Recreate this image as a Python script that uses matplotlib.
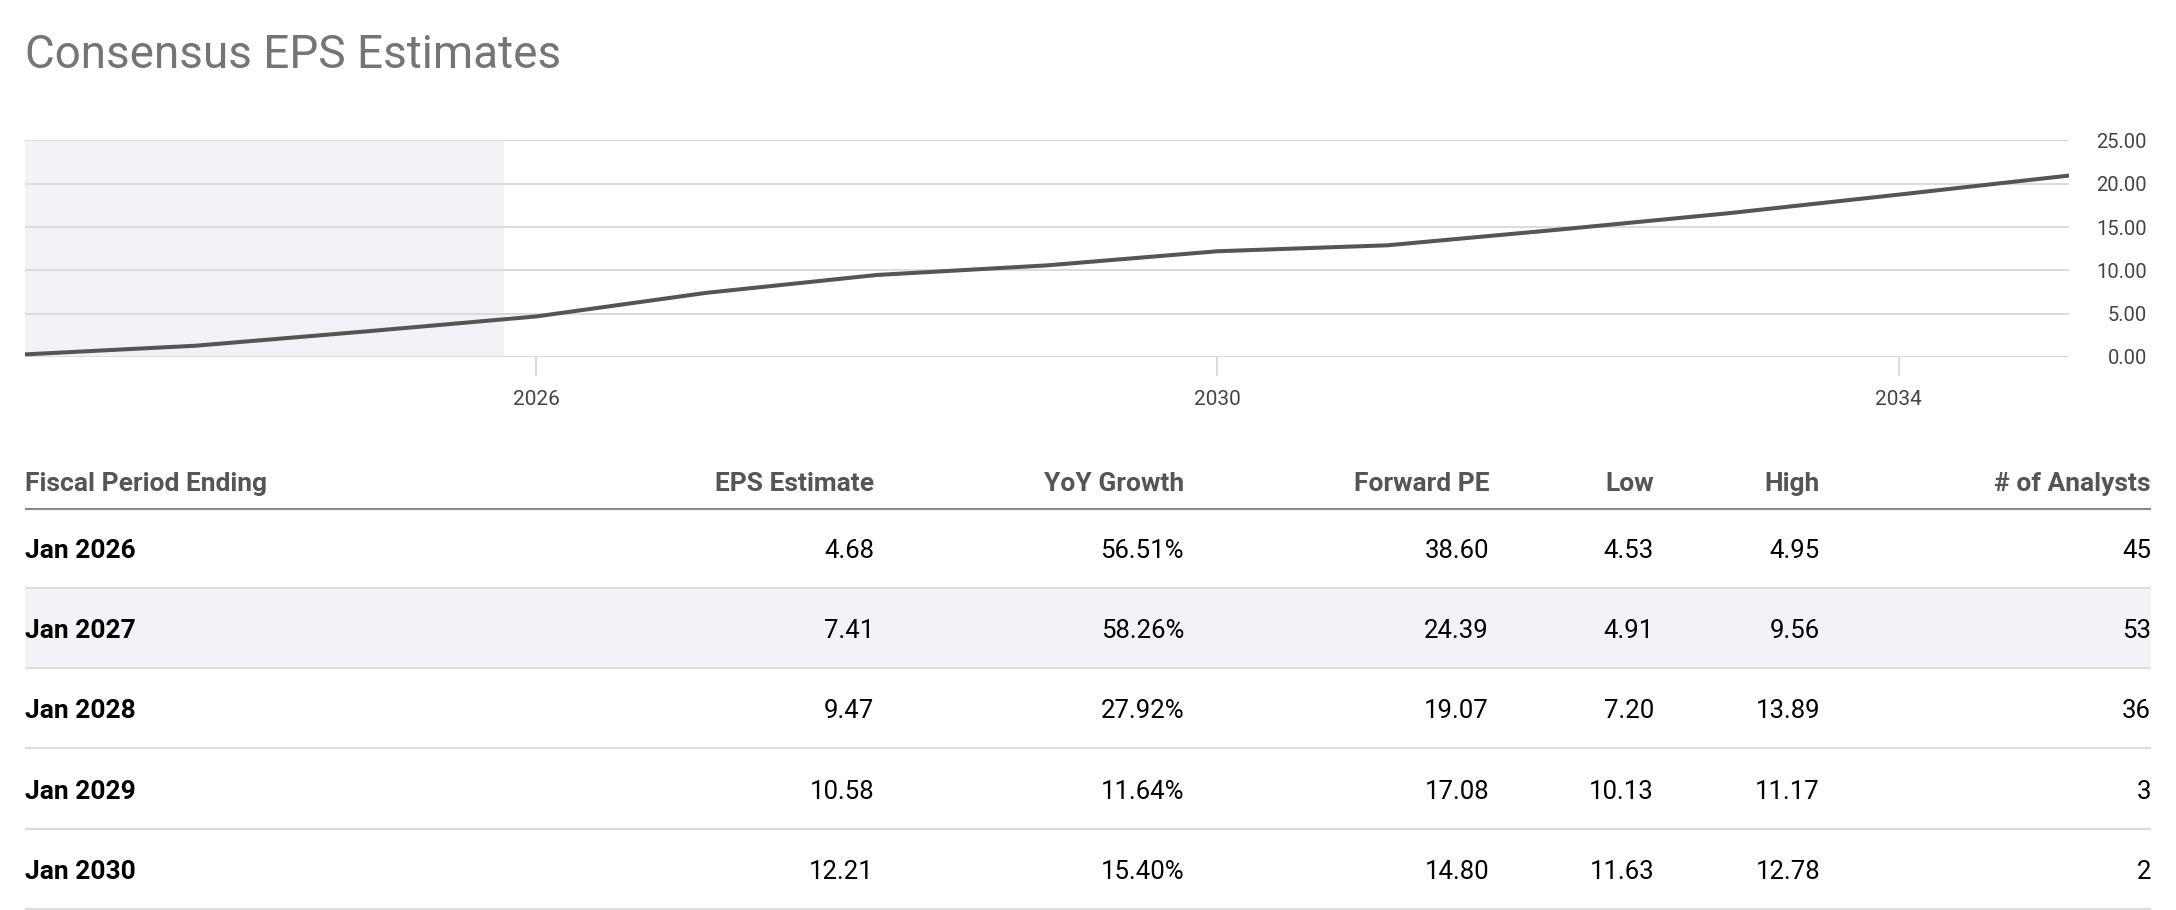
import numpy as np
import matplotlib.pyplot as plt

plt.rcParams['font.family'] = ['Roboto', 'DejaVu Sans']

# chart data
years = [2023, 2024, 2025, 2026, 2027, 2028, 2029, 2030, 2031, 2032, 2033, 2034, 2035]
eps_line = [0.30, 1.30, 2.95, 4.68, 7.41, 9.47, 10.58, 12.21, 12.90, 14.70, 16.60, 18.75, 20.95]
history_end = 2025.81
x_ticks = [2026, 2030, 2034]
y_ticks = [0, 5, 10, 15, 20, 25]

# table data
columns = ['Fiscal Period Ending', 'EPS Estimate', 'YoY Growth', 'Forward PE', 'Low', 'High', '# of Analysts']
periods = ['Jan 2026', 'Jan 2027', 'Jan 2028', 'Jan 2029', 'Jan 2030']
eps_est = ['4.68', '7.41', '9.47', '10.58', '12.21']
yoy_growth = ['56.51%', '58.26%', '27.92%', '11.64%', '15.40%']
forward_pe = ['38.60', '24.39', '19.07', '17.08', '14.80']
low = ['4.53', '4.91', '7.20', '10.13', '11.63']
high = ['4.95', '9.56', '13.89', '11.17', '12.78']
analysts = ['45', '53', '36', '3', '2']
highlighted_row = 1

W, H = 2176, 910
fig = plt.figure(figsize=(W / 100, H / 100), dpi=100)

# background axes in pixel units for title + table
bg = fig.add_axes([0, 0, 1, 1])
bg.set_xlim(0, W)
bg.set_ylim(H, 0)
bg.axis('off')

bg.text(25, 68, 'Consensus EPS Estimates', fontsize=33, color='#757575', va='baseline', ha='left')

# chart
ax = fig.add_axes([25 / W, 1 - 357 / H, (2069 - 25) / W, (357 - 140.5) / H])
ax.axvspan(2023, history_end, color='#f2f3f6', zorder=0, lw=0)
ax.plot(years, eps_line, color='#555555', lw=2.9, zorder=3, solid_capstyle='butt')
ax.set_xlim(2023, 2035)
ax.set_ylim(0, 25)
ax.set_yticks(y_ticks)
ax.set_yticklabels([f'{v:.2f}' for v in y_ticks])
ax.set_xticks(x_ticks)
ax.set_xticklabels([str(v) for v in x_ticks])
ax.grid(axis='y', color='#dcdcdc', lw=1.4, zorder=1)
ax.set_axisbelow(False)
for s in ax.spines.values():
    s.set_visible(False)
ax.yaxis.tick_right()
ax.tick_params(axis='y', length=0, pad=56, labelsize=14.5, labelcolor='#444444')
for lab in ax.get_yticklabels():
    lab.set_horizontalalignment('right')
ax.tick_params(axis='x', length=13.5, width=1.2, color='#d4d4d4', pad=10.5, labelsize=15, labelcolor='#444444')
ax.patch.set_alpha(0)

# table
right_edges = [874, 1184, 1489, 1654, 1820, 2151]
header_y = 484
row_y0 = 551
row_h = 80.2
bg.hlines(509, 25, 2151, color='#888888', lw=1.5)
bg.text(25, header_y, columns[0], fontsize=19, fontweight='bold', color='#555555', va='center', ha='left')
for col, xr in zip(columns[1:], right_edges):
    bg.text(xr, header_y, col, fontsize=19, fontweight='bold', color='#555555', va='center', ha='right')

rows = list(zip(periods, eps_est, yoy_growth, forward_pe, low, high, analysts))
for i, row in enumerate(rows):
    yc = row_y0 + i * row_h
    line_y = 588 + i * row_h
    if i == highlighted_row:
        bg.axhspan(line_y - row_h, line_y, xmin=25 / W, xmax=2151 / W, color='#f2f3f6', lw=0, zorder=0)
    bg.hlines(line_y, 25, 2151, color='#dcdcdc', lw=1.5)
    bg.text(25, yc, row[0], fontsize=19, fontweight='bold', color='black', va='center', ha='left')
    for val, xr in zip(row[1:], right_edges):
        bg.text(xr, yc, val, fontsize=18.5, color='black', va='center', ha='right')

fig.savefig('out.png', dpi=100)
